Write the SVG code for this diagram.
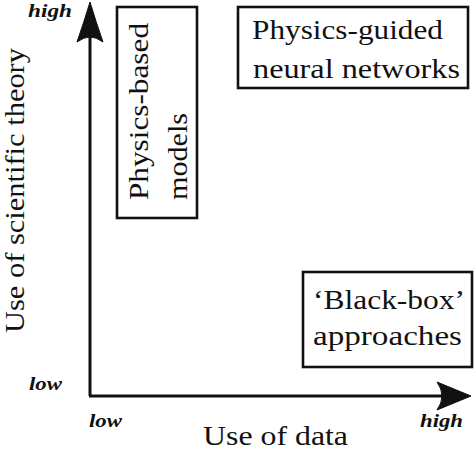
<svg xmlns="http://www.w3.org/2000/svg" width="474" height="450" viewBox="0 0 474 450">
<style>
.box{fill:#fff;stroke:#111;stroke-width:2.6}
.t{font-family:"Liberation Serif","DejaVu Serif",serif;font-size:27px;fill:#111}
.ax{font-family:"Liberation Serif","DejaVu Serif",serif;font-size:18px;font-style:italic;font-weight:bold;fill:#111}
.axis{stroke:#111;stroke-width:3;fill:none}
.head{fill:#111;stroke:#111;stroke-width:1;stroke-linejoin:round}
</style>
<rect width="474" height="450" fill="#fff"/>
<g id="connectors">
<path class="axis" d="M90,396 V30"/>
<path class="axis" d="M89,396 H445"/>
<path class="head" d="M90,2 Q96,22 103,42 Q96,37 90,37 Q84,37 77,42 Q84,22 90,2 Z"/>
<path class="head" d="M471,396 Q454,389 437,382 Q442,389 442,396 Q442,403 437,410 Q454,403 471,396 Z"/>
</g>
<g id="axis-labels">
<text class="ax" x="28" y="17" textLength="44" lengthAdjust="spacingAndGlyphs">high</text>
<text class="ax" x="29" y="390" textLength="33" lengthAdjust="spacingAndGlyphs">low</text>
<text class="ax" x="89" y="427" textLength="33" lengthAdjust="spacingAndGlyphs">low</text>
<text class="ax" x="420" y="427" textLength="43" lengthAdjust="spacingAndGlyphs">high</text>
<text class="t" x="203" y="445" textLength="145" lengthAdjust="spacingAndGlyphs">Use of data</text>
<text class="t" font-size="24" transform="rotate(-90)" x="-333" y="24" textLength="285" lengthAdjust="spacingAndGlyphs">Use of scientific theory</text>
</g>
<g id="physics-based">
<rect class="box" x="117" y="7" width="80" height="211"/>
<text class="t" transform="rotate(-90)" x="-200" y="148" textLength="177" lengthAdjust="spacingAndGlyphs">Physics-based</text>
<text class="t" transform="rotate(-90)" x="-200" y="187" textLength="87" lengthAdjust="spacingAndGlyphs">models</text>
</g>
<g id="physics-guided">
<rect class="box" x="238" y="7" width="230" height="81"/>
<text class="t" x="252" y="39" textLength="191" lengthAdjust="spacingAndGlyphs">Physics-guided</text>
<text class="t" x="253" y="78" textLength="207" lengthAdjust="spacingAndGlyphs">neural networks</text>
</g>
<g id="black-box">
<rect class="box" x="303" y="272" width="169" height="95"/>
<text class="t" x="313" y="309" textLength="152" lengthAdjust="spacingAndGlyphs">‘Black-box’</text>
<text class="t" x="313" y="345" textLength="149" lengthAdjust="spacingAndGlyphs">approaches</text>
</g>
</svg>
